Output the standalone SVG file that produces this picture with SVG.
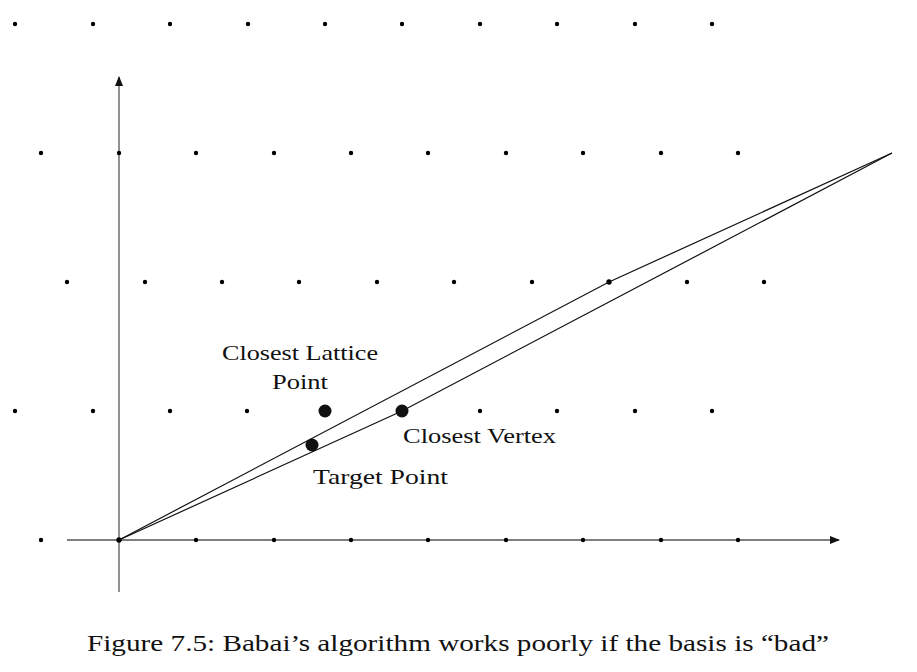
<svg xmlns="http://www.w3.org/2000/svg" width="917" height="672" viewBox="0 0 917 672">
<style>
.d{fill:#000}
.b{fill:#111}
.ax{stroke:#555;stroke-width:1.3;fill:none}
.ln{stroke:#111;stroke-width:1.2;fill:none}
text{font-family:"Liberation Serif","Times New Roman",serif;fill:#111}
.lb{font-size:21px}
.cap{font-size:23px}
</style>
<defs>
<marker id="ah" viewBox="0 0 10 8" refX="9" refY="4" markerWidth="10" markerHeight="8" markerUnits="userSpaceOnUse" orient="auto">
<path d="M0,0 L10,4 L0,8 Z" fill="#111"/>
</marker>
</defs>
<rect width="917" height="672" fill="#fff"/>
<g id="axes">
<line class="ax" x1="119" y1="592" x2="119" y2="77" marker-end="url(#ah)"/>
<line class="ax" x1="67" y1="540" x2="839" y2="540" marker-end="url(#ah)"/>
</g>
<g id="lattice">
<g id="row1">
<circle class="d" cx="15" cy="24" r="2.2"/><circle class="d" cx="93" cy="24" r="2.2"/><circle class="d" cx="170" cy="24" r="2.2"/><circle class="d" cx="248" cy="24" r="2.2"/><circle class="d" cx="325" cy="24" r="2.2"/><circle class="d" cx="402" cy="24" r="2.2"/><circle class="d" cx="480" cy="24" r="2.2"/><circle class="d" cx="557" cy="24" r="2.2"/><circle class="d" cx="635" cy="24" r="2.2"/><circle class="d" cx="712" cy="24" r="2.2"/>
</g>
<g id="row2">
<circle class="d" cx="41" cy="153" r="2.2"/><circle class="d" cx="119" cy="153" r="2.2"/><circle class="d" cx="196" cy="153" r="2.2"/><circle class="d" cx="274" cy="153" r="2.2"/><circle class="d" cx="351" cy="153" r="2.2"/><circle class="d" cx="428" cy="153" r="2.2"/><circle class="d" cx="506" cy="153" r="2.2"/><circle class="d" cx="583" cy="153" r="2.2"/><circle class="d" cx="661" cy="153" r="2.2"/><circle class="d" cx="738" cy="153" r="2.2"/>
</g>
<g id="row3">
<circle class="d" cx="67" cy="282" r="2.2"/><circle class="d" cx="145" cy="282" r="2.2"/><circle class="d" cx="222" cy="282" r="2.2"/><circle class="d" cx="299" cy="282" r="2.2"/><circle class="d" cx="377" cy="282" r="2.2"/><circle class="d" cx="454" cy="282" r="2.2"/><circle class="d" cx="532" cy="282" r="2.2"/><circle class="d" cx="609" cy="282" r="2.7"/><circle class="d" cx="687" cy="282" r="2.2"/><circle class="d" cx="764" cy="282" r="2.2"/>
</g>
<g id="row4">
<circle class="d" cx="15" cy="411" r="2.2"/><circle class="d" cx="93" cy="411" r="2.2"/><circle class="d" cx="170" cy="411" r="2.2"/><circle class="d" cx="247" cy="411" r="2.2"/><circle class="d" cx="480" cy="411" r="2.2"/><circle class="d" cx="557" cy="411" r="2.2"/><circle class="d" cx="635" cy="411" r="2.2"/><circle class="d" cx="712" cy="411" r="2.2"/>
</g>
<g id="row5">
<circle class="d" cx="41" cy="540" r="2.2"/><circle class="d" cx="119" cy="540" r="2.7"/><circle class="d" cx="196" cy="540" r="2.2"/><circle class="d" cx="274" cy="540" r="2.2"/><circle class="d" cx="351" cy="540" r="2.2"/><circle class="d" cx="428" cy="540" r="2.2"/><circle class="d" cx="506" cy="540" r="2.2"/><circle class="d" cx="583" cy="540" r="2.2"/><circle class="d" cx="661" cy="540" r="2.2"/><circle class="d" cx="738" cy="540" r="2.2"/>
</g>
</g>
<g id="connectors">
<polyline class="ln" points="119,540 609,282 892,153"/>
<polyline class="ln" points="119,540 402,411 892,153"/>
</g>
<g id="closest-lattice-point">
<circle class="b" cx="325" cy="411" r="6.5"/>
<text class="lb" x="222" y="360" textLength="156" lengthAdjust="spacingAndGlyphs">Closest Lattice</text>
<text class="lb" x="272" y="389" textLength="56" lengthAdjust="spacingAndGlyphs">Point</text>
</g>
<g id="closest-vertex">
<circle class="b" cx="402" cy="411" r="6.5"/>
<text class="lb" x="403" y="443" textLength="153" lengthAdjust="spacingAndGlyphs">Closest Vertex</text>
</g>
<g id="target-point">
<circle class="b" cx="312" cy="445" r="6.5"/>
<text class="lb" x="313" y="484" textLength="135" lengthAdjust="spacingAndGlyphs">Target Point</text>
</g>
<text class="cap" x="87" y="651" textLength="742" lengthAdjust="spacingAndGlyphs">Figure 7.5: Babai’s algorithm works poorly if the basis is “bad”</text>
</svg>
